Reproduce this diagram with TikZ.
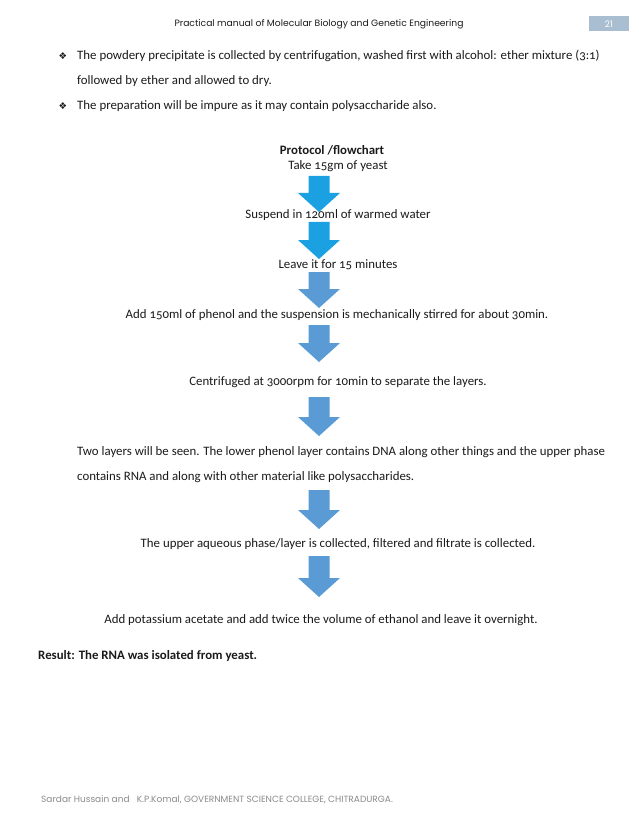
\documentclass[tikz,border=0pt]{standalone}
\usepackage{fontspec}
\setmainfont{Carlito}[Numbers=OldStyle]
\newfontfamily\gothic{Poppins}
\newfontfamily\symb{DejaVu Sans}
\usetikzlibrary{positioning}
\definecolor{ArrowCyan}{HTML}{1BA1E2}
\definecolor{ArrowBlue}{HTML}{5B9BD5}
\definecolor{PageBox}{HTML}{AABED1}
\definecolor{FootGrey}{HTML}{8A8A8A}
\definecolor{Black90}{HTML}{1A1A1A}

\begin{document}
\begin{tikzpicture}[x=1pt, y=-1pt,
    body/.style={inner sep=0pt, text=Black90, font=\fontsize{12.85}{15}\selectfont},
    lefttext/.style={body, anchor=west},
    stepline/.style={body, anchor=center},
    bullet/.style={inner sep=0pt, text=Black90, font=\symb\fontsize{9.5}{11}\selectfont},
    running/.style={inner sep=0pt, font=\gothic\fontsize{9.2}{11}\selectfont}
]
\useasboundingbox (0,0) rectangle (638,826);

% Header
\node[running, text=Black90] (head) at (319,24) {Practical manual of Molecular Biology and Genetic Engineering};
\node[fill=PageBox, text=white, font=\gothic\fontsize{9}{10}\selectfont, minimum width=40pt, minimum height=15pt, inner sep=0pt] (pagenum) at (609,24) {21};

% Notes
\node[bullet] (dotA) at (63,56) {❖};
\node[lefttext] (noteA) at (77,56) {The powdery precipitate is collected by centrifugation, washed first with alcohol: ether mixture (3:1)};
\node[lefttext] (noteA2) at (77,81) {followed by ether and allowed to dry.};
\node[bullet] (dotB) at (63,106) {❖};
\node[lefttext] (noteB) at (77,106) {The preparation will be impure as it may contain polysaccharide also.};

% Protocol
\node[stepline, font=\bfseries\fontsize{12.85}{15}\selectfont] (title) at (332,150) {Protocol /flowchart};
\node[stepline] (yeast) at (338,166) {Take 15gm of yeast};
\node[stepline] (water) at (338,215) {Suspend in 120ml of warmed water};
\node[stepline] (leave) at (338,265) {Leave it for 15 minutes};
\node[stepline] (phenol) at (337,315) {Add 150ml of phenol and the suspension is mechanically stirred for about 30min.};
\node[stepline] (spin) at (338,382) {Centrifuged at 3000rpm for 10min to separate the layers.};
\node[lefttext] (layers) at (77,452) {Two layers will be seen. The lower phenol layer contains DNA along other things and the upper phase};
\node[lefttext] (layers2) at (77,477) {contains RNA and along with other material like polysaccharides.};
\node[stepline] (filter) at (338,544) {The upper aqueous phase/layer is collected, filtered and filtrate is collected.};
\node[stepline] (ethanol) at (321,620) {Add potassium acetate and add twice the volume of ethanol and leave it overnight.};

% Block arrows
\foreach \top/\tip/\col in {176/212/ArrowCyan, 222/259/ArrowCyan, 272/308/ArrowBlue, 325/362/ArrowBlue, 397/436/ArrowBlue, 490/529/ArrowBlue, 556/597/ArrowBlue}
  \fill[\col] (308.5,\top) -- (329.5,\top) -- (329.5,\tip-19) -- (340,\tip-19) -- (319,\tip) -- (298,\tip-19) -- (308.5,\tip-19) -- cycle;

% Result
\node[lefttext, font=\bfseries\fontsize{12.85}{15}\selectfont] (result) at (38,656) {Result: The RNA was isolated from yeast.};

% Footer
\node[running, anchor=west, text=FootGrey, font=\gothic\fontsize{9}{11}\selectfont] (foot) at (41,800) {Sardar Hussain and \ \ K.P.Komal, GOVERNMENT SCIENCE COLLEGE, CHITRADURGA.};

\end{tikzpicture}
\end{document}
